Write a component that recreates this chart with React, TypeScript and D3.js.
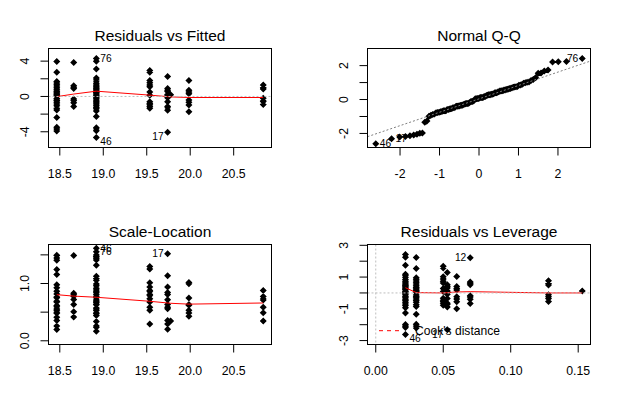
import React from 'react';
import * as d3 from 'd3';

const W = 639, H = 394;

// ---- data ----
const groupFitted = [18.465, 18.66, 18.92, 19.535, 19.74, 19.775, 19.985, 20.84];
const groupLeverage = [0.030, 0.070, 0.022, 0.050, 0.053, 0.153, 0.060, 0.128];
const res1 = [3.96, 2.74, 1.7, 1.52, 1.33, 1.18, 1.0, 0.81, 0.63, 0.55, 0.44, 0.3, 0.22, 0.12, 0.07, -0.22, -0.41, -0.5, -0.67, -0.85, -1.04, -1.33, -1.52, -2.37, -3.5, -3.7, -3.92];
const res2 = [3.85, 1.2, 1.05, 0.9, -0.3, -0.45, -0.7, -1.15];
const res3 = [4.3, 4.0, 3.1, 2.1, 1.99, 1.75, 1.5, 1.3, 1.15, 1.0, 0.9, 0.8, 0.72, 0.58, 0.5, 0.42, 0.35, 0.2, 0.12, 0.05, -0.1, -0.2, -0.4, -0.55, -0.7, -0.85, -1.05, -1.25, -1.4, -1.65, -2.26, -3.55, -3.65, -3.8, -3.88, -4.65];
const res4 = [2.95, 2.75, 1.8, 1.55, 1.3, 1.1, 0.5, 0.15, -0.6, -0.8, -0.95, -1.15, -1.35];
const res5 = [2.25, 0.9, 0.7, 0.55, 0.22, 0.07, -0.15, -0.6, -1.15, -1.25, -1.55, -4.05];
const res6 = [0.2];
const res7 = [1.81, 0.7, 0.5, 0.32, -0.41, -0.67, -0.97, -1.73];
const res8 = [1.3, 1.0, 0.85, -0.2, -0.4, -0.58, -0.9];
const groupResiduals = [res1, res2, res3, res4, res5, res6, res7, res8];
const residualSE = 1.8;

// red smoother values (lowess) at each fitted value / leverage
const smoothResidual = [-0.02, 0.27, 0.6, 0.15, -0.02, -0.05, -0.12, -0.12];
const smoothScale = [0.805, 0.78, 0.76, 0.69, 0.66, 0.655, 0.64, 0.66];
const smoothLeverageX = [0.022, 0.030, 0.050, 0.053, 0.060, 0.070, 0.128, 0.153];
const smoothLeverageY = [0.33, 0.02, 0.0, 0.02, 0.06, 0.08, 0.0, 0.0];

// labelled observations: [label, group, residual]
const idPoints: [string, number, number][] = [['76', 2, 4.3], ['46', 2, -4.65], ['17', 4, -4.05], ['12', 1, 3.85]];
const idsFitted = ['76', '46', '17'];
const idsQQ = ['76', '46', '17'];
const idsScale = ['46', '76', '17'];
const idsLeverage = ['12', '46', '17'];

const titles = ['Residuals vs Fitted', 'Normal Q-Q', 'Scale-Location', 'Residuals vs Leverage'];
const fittedTicks = [18.5, 19.0, 19.5, 20.0, 20.5];
const residTicks = [-4, -2, 0, 2, 4];
const residTickLabels = [-4, 0, 4];
const qqXTicks = [-2, -1, 0, 1, 2];
const qqYTicks = [-2, -1, 0, 1, 2];
const qqYTickLabels = [-2, 0, 2];
const scaleTicks = [0, 0.5, 1.0, 1.5];
const scaleTickLabels = [0, 1.0];
const levXTicks = [0, 0.05, 0.10, 0.15];
const levYTicks = [-3, -2, -1, 0, 1, 2, 3];
const levYTickLabels = [-3, -1, 1, 3];
const legendLabel = "Cook's distance";

// ---- helpers ----
function qnorm(p: number): number {
  const a = [-3.969683028665376e+01, 2.209460984245205e+02, -2.759285104469687e+02, 1.383577518672690e+02, -3.066479806614716e+01, 2.506628277459239e+00];
  const b = [-5.447609879822406e+01, 1.615858368580409e+02, -1.556989798598866e+02, 6.680131188771972e+01, -1.328068155288572e+01];
  const c = [-7.784894002430293e-03, -3.223964580411365e-01, -2.400758277161838e+00, -2.549732539343734e+00, 4.374664141464968e+00, 2.938163982698783e+00];
  const d = [7.784695709041462e-03, 3.224671290700398e-01, 2.445134137142996e+00, 3.754408661907416e+00];
  const pl = 0.02425, ph = 1 - pl;
  if (p < pl) {
    const q = Math.sqrt(-2 * Math.log(p));
    return (((((c[0] * q + c[1]) * q + c[2]) * q + c[3]) * q + c[4]) * q + c[5]) / ((((d[0] * q + d[1]) * q + d[2]) * q + d[3]) * q + 1);
  }
  if (p <= ph) {
    const q = p - 0.5, r = q * q;
    return (((((a[0] * r + a[1]) * r + a[2]) * r + a[3]) * r + a[4]) * r + a[5]) * q / (((((b[0] * r + b[1]) * r + b[2]) * r + b[3]) * r + b[4]) * r + 1);
  }
  const q = Math.sqrt(-2 * Math.log(1 - p));
  return -(((((c[0] * q + c[1]) * q + c[2]) * q + c[3]) * q + c[4]) * q + c[5]) / ((((d[0] * q + d[1]) * q + d[2]) * q + d[3]) * q + 1);
}

function padDomain(lo: number, hi: number): [number, number] {
  const d = (hi - lo) * 0.04;
  return [lo - d, hi + d];
}
function extendRange(lo: number, hi: number, f: number): [number, number] {
  const d = (hi - lo) * f;
  return [lo - d, hi + d];
}

type Box = { x0: number; x1: number; y0: number; y1: number };
type Obs = { fitted: number; lev: number; res: number; std: number; label: string | null };

const FONT = "'Liberation Sans', Arial, Helvetica, sans-serif";
const TICK_LEN = 8;

function diamond(x: number, y: number, s = 3.5) {
  return `M${x},${y - s}L${x + s},${y}L${x},${y + s}L${x - s},${y}Z`;
}

function Frame(props: {
  box: Box; title: string; id: string;
  xs: (v: number) => number; ys: (v: number) => number;
  xTicks: number[]; xFmt: (v: number) => string; xLabelled?: number[];
  yTicks: number[]; yFmt: (v: number) => string; yLabelled: number[];
  children?: React.ReactNode; overlay?: React.ReactNode;
}) {
  const { box, title, id, xs, ys, xTicks, xFmt, yTicks, yFmt, yLabelled } = props;
  const xLabelled = props.xLabelled ?? xTicks;
  const cx = (box.x0 + box.x1) / 2;
  return (
    <g>
      <defs>
        <clipPath id={id}>
          <rect x={box.x0} y={box.y0} width={box.x1 - box.x0} height={box.y1 - box.y0} />
        </clipPath>
      </defs>
      <g clipPath={`url(#${id})`}>{props.children}</g>
      <rect x={box.x0} y={box.y0} width={box.x1 - box.x0} height={box.y1 - box.y0} fill="none" stroke="#000" strokeWidth={1} />
      <text x={cx} y={box.y0 - 7.8} textAnchor="middle" fontSize={15.5} fill="#000">{title}</text>
      {xTicks.map(t => (
        <line key={'xt' + t} x1={xs(t)} x2={xs(t)} y1={box.y1} y2={box.y1 + TICK_LEN} stroke="#000" />
      ))}
      {xLabelled.map(t => (
        <text key={'xl' + t} x={xs(t)} y={box.y1 + 30.8} textAnchor="middle" fontSize={12.3} fill="#000">{xFmt(t)}</text>
      ))}
      {yTicks.map(t => (
        <line key={'yt' + t} x1={box.x0 - TICK_LEN} x2={box.x0} y1={ys(t)} y2={ys(t)} stroke="#000" />
      ))}
      {yLabelled.map(t => (
        <text key={'yl' + t} x={box.x0 - 19.8} y={ys(t)} textAnchor="middle" fontSize={12.3} fill="#000"
          transform={`rotate(-90 ${box.x0 - 19.8} ${ys(t)})`}>{yFmt(t)}</text>
      ))}
      {props.overlay}
    </g>
  );
}

function IdLabels(props: { pts: { x: number; y: number; label: string; neg: boolean }[]; shiftNeg: boolean }) {
  const xsArr = props.pts.map(p => p.x);
  const mid = ((d3.min(xsArr) as number) + (d3.max(xsArr) as number)) / 2;
  return (
    <g>
      {props.pts.map(p => {
        const left = p.x > mid + 1e-9;
        const dy = (props.shiftNeg && p.neg ? 4.3 : 0) + 3.6;
        return (
          <text key={p.label} x={left ? p.x - 4 : p.x + 4} y={p.y + dy} fontSize={10.2} fill="#000"
            textAnchor={left ? 'end' : 'start'}>{p.label}</text>
        );
      })}
    </g>
  );
}

export default function App() {
  const obs: Obs[] = [];
  groupResiduals.forEach((list, g) => {
    list.forEach(r => {
      const h = groupLeverage[g];
      obs.push({ fitted: groupFitted[g], lev: h, res: r, std: r / (residualSE * Math.sqrt(1 - h)), label: null });
    });
  });
  idPoints.forEach(([lab, g, r]) => {
    const o = obs.find(o2 => o2.fitted === groupFitted[g] && o2.res === r && o2.label === null);
    if (o) o.label = lab;
  });
  const n = obs.length;

  const boxes: Box[] = [
    { x0: 48.5, x1: 271.5, y0: 48.5, y1: 147.5 },
    { x0: 367.5, x1: 590.5, y0: 48.5, y1: 147.5 },
    { x0: 48.5, x1: 271.5, y0: 244.5, y1: 344.5 },
    { x0: 367.5, x1: 590.5, y0: 244.5, y1: 344.5 },
  ];
  const line = d3.line<[number, number]>();

  // Panel 1: Residuals vs Fitted
  const b1 = boxes[0];
  const fitExt = d3.extent(obs, o => o.fitted) as [number, number];
  const resExt = d3.extent(obs, o => o.res) as [number, number];
  const x1 = d3.scaleLinear().domain(padDomain(fitExt[0], fitExt[1])).range([b1.x0, b1.x1]);
  const r1 = extendRange(resExt[0], resExt[1], 0.08);
  const y1 = d3.scaleLinear().domain(padDomain(r1[0], r1[1])).range([b1.y1, b1.y0]);

  // Panel 2: Normal Q-Q
  const b2 = boxes[1];
  const sortedIdx = d3.range(n).sort((a, b) => obs[a].std - obs[b].std || a - b);
  const theo: number[] = new Array(n);
  sortedIdx.forEach((oi, rank) => { theo[oi] = qnorm((rank + 0.5) / n); });
  const stdExt = d3.extent(obs, o => o.std) as [number, number];
  const qx = padDomain(d3.min(theo) as number, d3.max(theo) as number);
  const x2 = d3.scaleLinear().domain(qx).range([b2.x0, b2.x1]);
  const y2 = d3.scaleLinear().domain(padDomain(stdExt[0], stdExt[1] + (stdExt[1] - stdExt[0]) * 0.075)).range([b2.y1, b2.y0]);
  const sortedStd = obs.map(o => o.std).sort((a, b) => a - b);
  const q25 = d3.quantileSorted(sortedStd, 0.25) as number;
  const q75 = d3.quantileSorted(sortedStd, 0.75) as number;
  const slope = (q75 - q25) / (qnorm(0.75) - qnorm(0.25));
  const inter = q25 - slope * qnorm(0.25);

  // Panel 3: Scale-Location
  const b3 = boxes[2];
  const sq = obs.map(o => Math.sqrt(Math.abs(o.std)));
  const x3 = d3.scaleLinear().domain(padDomain(fitExt[0], fitExt[1])).range([b3.x0, b3.x1]);
  const y3 = d3.scaleLinear().domain(padDomain(0, d3.max(sq) as number)).range([b3.y1, b3.y0]);

  // Panel 4: Residuals vs Leverage
  const b4 = boxes[3];
  const x4 = d3.scaleLinear().domain(padDomain(0, d3.max(obs, o => o.lev) as number)).range([b4.x0, b4.x1]);
  const r4 = extendRange(stdExt[0], stdExt[1], 0.08);
  const y4 = d3.scaleLinear().domain(padDomain(r4[0], r4[1])).range([b4.y1, b4.y0]);

  const dots = (pts: [number, number][]) => (
    <path d={pts.map(([x, y]) => diamond(x, y)).join('')} fill="#000" />
  );

  const labelled = (ids: string[], fx: (o: Obs, i: number) => number, fy: (o: Obs, i: number) => number, negOf: (o: Obs) => boolean) =>
    ids.map(id => {
      const i = obs.findIndex(o => o.label === id);
      const o = obs[i];
      return { x: fx(o, i), y: fy(o, i), label: id, neg: negOf(o) };
    });

  const fmt1 = (v: number) => v.toFixed(1);
  const fmtInt = (v: number) => String(v);
  const fmt2 = (v: number) => v.toFixed(2);

  const smooth1 = line(groupFitted.map((f, i) => [x1(f), y1(smoothResidual[i])] as [number, number])) || '';
  const smooth3 = line(groupFitted.map((f, i) => [x3(f), y3(smoothScale[i])] as [number, number])) || '';
  const smooth4 = line(smoothLeverageX.map((h, i) => [x4(h), y4(smoothLeverageY[i])] as [number, number])) || '';

  return (
    <svg width={W} height={H} style={{ position: 'absolute', left: 0, top: 0, background: '#fff' }} fontFamily={FONT}>
      <rect x={0} y={0} width={W} height={H} fill="#fff" />

      <Frame box={b1} title={titles[0]} id="c1" xs={x1} ys={y1}
        xTicks={fittedTicks} xFmt={fmt1} yTicks={residTicks} yFmt={fmtInt} yLabelled={residTickLabels}
        overlay={<IdLabels shiftNeg={true} pts={labelled(idsFitted, o => x1(o.fitted), o => y1(o.res), o => o.res < 0)} />}>
        {dots(obs.map(o => [x1(o.fitted), y1(o.res)] as [number, number]))}
        <path d={smooth1} fill="none" stroke="#ff0000" strokeWidth={1} />
        <line x1={b1.x0} x2={b1.x1} y1={y1(0)} y2={y1(0)} stroke="#bebebe" strokeDasharray="2,2" />
      </Frame>

      <Frame box={b2} title={titles[1]} id="c2" xs={x2} ys={y2}
        xTicks={qqXTicks} xFmt={fmtInt} yTicks={qqYTicks} yFmt={fmtInt} yLabelled={qqYTickLabels}
        overlay={<IdLabels shiftNeg={false} pts={labelled(idsQQ, (o, i) => x2(theo[i]), o => y2(o.std), o => o.std < 0)} />}>
        {dots(obs.map((o, i) => [x2(theo[i]), y2(o.std)] as [number, number]))}
        <line x1={x2(qx[0])} x2={x2(qx[1])} y1={y2(inter + slope * qx[0])} y2={y2(inter + slope * qx[1])}
          stroke="#7f7f7f" strokeDasharray="2,2" />
      </Frame>

      <Frame box={b3} title={titles[2]} id="c3" xs={x3} ys={y3}
        xTicks={fittedTicks} xFmt={fmt1} yTicks={scaleTicks} yFmt={fmt1} yLabelled={scaleTickLabels}
        overlay={<IdLabels shiftNeg={false} pts={labelled(idsScale, o => x3(o.fitted), (o, i) => y3(sq[i]), () => false)} />}>
        {dots(obs.map((o, i) => [x3(o.fitted), y3(sq[i])] as [number, number]))}
        <path d={smooth3} fill="none" stroke="#ff0000" strokeWidth={1} />
      </Frame>

      <Frame box={b4} title={titles[3]} id="c4" xs={x4} ys={y4}
        xTicks={levXTicks} xFmt={fmt2} yTicks={levYTicks} yFmt={fmtInt} yLabelled={levYTickLabels}
        overlay={
          <g>
            <line x1={b4.x0 + 11.5} x2={b4.x0 + 34} y1={b4.y1 - 13.8} y2={b4.y1 - 13.8} stroke="#ff0000" strokeDasharray="4,4" />
            <text x={b4.x0 + 47.5} y={b4.y1 - 9.4} fontSize={12.1} fill="#000">{legendLabel}</text>
            <IdLabels shiftNeg={true} pts={labelled(idsLeverage, o => x4(o.lev), o => y4(o.std), o => o.std < 0)} />
          </g>
        }>
        {dots(obs.map(o => [x4(o.lev), y4(o.std)] as [number, number]))}
        <path d={smooth4} fill="none" stroke="#ff0000" strokeWidth={1} />
        <line x1={b4.x0} x2={b4.x1} y1={y4(0)} y2={y4(0)} stroke="#bebebe" strokeDasharray="2,2" />
        <line x1={x4(0)} x2={x4(0)} y1={b4.y0} y2={b4.y1} stroke="#bebebe" strokeDasharray="2,2" />
      </Frame>
    </svg>
  );
}
